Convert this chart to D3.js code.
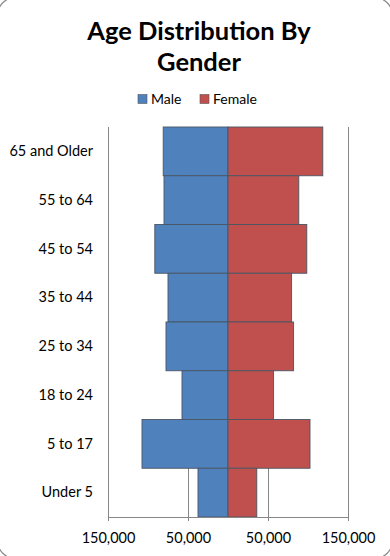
<!DOCTYPE html>
<html>
<head>
<meta charset="utf-8">
<script src="https://cdn.jsdelivr.net/npm/d3@7"></script>
<style>
  html, body { margin: 0; padding: 0; background: #fff; }
  svg { display: block; font-family: Lato, "Open Sans", sans-serif; }
</style>
</head>
<body>
<div id="chart"></div>
<script>
// age groups, top to bottom
var ageGroups = ["65 and Older", "55 to 64", "45 to 54", "35 to 44", "25 to 34", "18 to 24", "5 to 17", "Under 5"];
var maleValues = [81000, 80000, 91500, 75000, 77500, 57500, 107500, 37500];
var femaleValues = [118500, 88500, 98500, 79500, 82000, 57000, 102500, 36000];
var tickValues = [-150000, -50000, 50000, 150000];
var seriesNames = ["Male", "Female"];
var seriesColors = ["#4f81bd", "#c0504d"];

var width = 390, height = 556;
var plot = {left: 108, right: 348, top: 127, bottom: 517};

var svg = d3.select("#chart").append("svg")
    .attr("width", width)
    .attr("height", height);

// chart area border: only the rounded corners show inside the canvas
svg.append("rect")
    .attr("x", -2.5).attr("y", -2.5)
    .attr("width", width + 5).attr("height", height + 5)
    .attr("rx", 18)
    .attr("fill", "#fff")
    .attr("stroke", "#8c8c8c")
    .attr("stroke-width", 1.2);

var x = d3.scaleLinear()
    .domain([-150000, 150000])
    .range([plot.left, plot.right]);

var y = d3.scaleBand()
    .domain(ageGroups)
    .range([plot.top, plot.bottom])
    .padding(0);

// title
var title = svg.append("text")
    .attr("text-anchor", "middle")
    .attr("font-weight", "bold")
    .attr("font-size", 25.5)
    .attr("fill", "#000");
title.append("tspan").attr("x", 199).attr("y", 40).text("Age Distribution By");
title.append("tspan").attr("x", 199).attr("y", 71).text("Gender");

// legend
var legend = svg.append("g");
var legendX = [138, 200];
seriesNames.forEach(function (name, i) {
    legend.append("rect")
        .attr("x", legendX[i]).attr("y", 94.5)
        .attr("width", 9).attr("height", 9)
        .attr("fill", seriesColors[i])
        .attr("stroke", "#555").attr("stroke-width", 0.6);
    legend.append("text")
        .attr("x", legendX[i] + 13).attr("y", 104)
        .attr("font-size", 14)
        .attr("fill", "#000")
        .text(name);
});

// vertical gridlines
svg.append("g").selectAll("line")
    .data(tickValues.slice(1))
    .enter().append("line")
    .attr("x1", function (d) { return Math.round(x(d)) + 0.5; })
    .attr("x2", function (d) { return Math.round(x(d)) + 0.5; })
    .attr("y1", plot.top)
    .attr("y2", plot.bottom)
    .attr("stroke", "#878787")
    .attr("stroke-width", 1);

// bars
var rows = ageGroups.map(function (g, i) {
    return {group: g, male: maleValues[i], female: femaleValues[i]};
});

var bars = svg.append("g");
bars.selectAll("rect.male").data(rows).enter().append("rect")
    .attr("class", "male")
    .attr("x", function (d) { return x(-d.male); })
    .attr("y", function (d) { return y(d.group); })
    .attr("width", function (d) { return x(0) - x(-d.male); })
    .attr("height", y.bandwidth())
    .attr("fill", seriesColors[0])
    .attr("stroke", "#4a5564")
    .attr("stroke-width", 0.9);

bars.selectAll("rect.female").data(rows).enter().append("rect")
    .attr("class", "female")
    .attr("x", x(0))
    .attr("y", function (d) { return y(d.group); })
    .attr("width", function (d) { return x(d.female) - x(0); })
    .attr("height", y.bandwidth())
    .attr("fill", seriesColors[1])
    .attr("stroke", "#4a5564")
    .attr("stroke-width", 0.9);

// x axis
var xAxis = d3.axisBottom(x)
    .tickValues(tickValues)
    .tickSize(4)
    .tickPadding(12)
    .tickFormat(function (d) { return d3.format(",")(Math.abs(d)); });

var gx = svg.append("g")
    .attr("transform", "translate(0," + plot.bottom + ")")
    .call(xAxis);
gx.select(".domain").attr("stroke", "#878787");
gx.selectAll(".tick line").attr("stroke", "#878787");
gx.selectAll(".tick text")
    .attr("fill", "#000")
    .attr("font-size", 14.5)
    .attr("font-family", "Lato, 'Open Sans', sans-serif");

// y axis
var yAxis = d3.axisLeft(y)
    .tickSize(0)
    .tickPadding(15);

var gy = svg.append("g")
    .attr("transform", "translate(" + plot.left + ",0)")
    .call(yAxis);
gy.select(".domain").attr("stroke", "#878787").attr("d", "M0.5," + plot.top + "V" + (plot.bottom + 4));
gy.selectAll(".tick text")
    .attr("fill", "#000")
    .attr("font-size", 14.5)
    .attr("font-family", "Lato, 'Open Sans', sans-serif");
</script>
</body>
</html>
